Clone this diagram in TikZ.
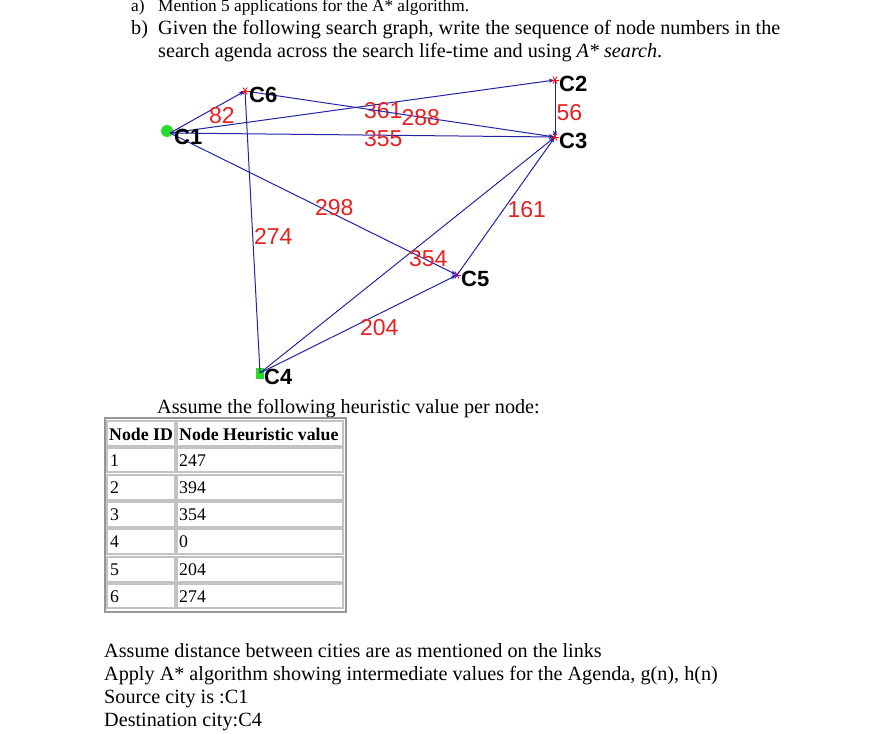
\documentclass[tikz,border=0pt]{standalone}
\usepackage{fontspec}
\setmainfont{Liberation Serif}
\setsansfont{Liberation Sans}
\usetikzlibrary{arrows.meta,calc}

\definecolor{linkblue}{RGB}{35,35,165}
\definecolor{distred}{RGB}{232,32,32}
\definecolor{cellgray}{RGB}{195,195,195}
\definecolor{framegray}{RGB}{150,150,150}
\definecolor{markgreen}{RGB}{40,220,40}

\tikzset{
  city/.style={inner sep=0pt, minimum size=0pt},
  cityname/.style={
    font=\sffamily\bfseries\fontsize{22}{22}\selectfont,
    anchor=west,
    inner sep=0pt,
    xshift=4pt,
    yshift=-4pt
  },
  link/.style={draw=linkblue, line width=1pt},
  arrowlink/.style={link, -{Stealth[length=6pt,width=4pt]}},
  dist/.style={
    text=distred,
    font=\sffamily\fontsize{23}{23}\selectfont,
    anchor=west,
    inner sep=0pt,
    xshift=1pt,
    yshift=-4pt
  },
  body/.style={font=\fontsize{20.2}{23}\selectfont, anchor=base west, inner sep=0pt},
  cell/.style={draw=cellgray, line width=1.2pt},
  celltext/.style={font=\fontsize{17.8}{20}\selectfont, anchor=base west, inner sep=0pt}
}

\begin{document}
\begin{tikzpicture}[x=1pt, y=-1pt]
  \useasboundingbox[fill=white] (0,0) rectangle (890,733);

  % question text
  \node[body, font=\fontsize{17.3}{20}\selectfont] (la) at (131,12) {a)};
  \node[body, font=\fontsize{17.3}{20}\selectfont] (qa) at (158,12) {Mention 5 applications for the A* algorithm.};
  \node[body] (lb) at (131,35) {b)};
  \node[body] (qb) at (158,35) {Given the following search graph, write the sequence of node numbers in the};
  \node[body] (qb2) at (158,58) {search agenda across the search life-time and using \textit{A* search}.};

  % cities
  \node[city] (c1) at (170,133) {};
  \node[city] (c6) at (245,91) {};
  \node[city] (c2) at (555,80) {};
  \node[city] (c3) at (555,137) {};
  \node[city] (c5) at (457,275) {};
  \node[city] (c4) at (260,373) {};

  % source and destination marks
  \fill[markgreen] ($(c1)+(-3,-2)$) circle (6);
  \fill[markgreen] ($(c4)+(-4,-5)$) rectangle ($(c4)+(4,6)$);

  % links
  \draw[arrowlink] (c1) -- node[dist] {82} (c6);
  \draw[arrowlink] (c1) -- node[dist] {361} (c2);
  \draw[arrowlink] (c6) -- node[dist] {288} (c3);
  \draw[arrowlink] (c1) -- node[dist] {355} (c3);
  \draw[arrowlink] (c2) -- node[dist] {56} (c3);
  \draw[link] (c6) -- node[dist] {274} (c4);
  \draw[arrowlink] (c1) -- node[dist] {298} (c5);
  \draw[arrowlink] (c4) -- node[dist] {354} (c3);
  \draw[arrowlink] (c5) -- node[dist] {161} (c3);
  \draw[arrowlink] (c4) -- node[dist] {204} (c5);

  % star marks
  \foreach \c/\col in {c6/red, c2/red, c3/red, c5/violet}
    \foreach \a in {0,60,120}
      \draw[\col, line width=0.8pt] ($(\c)+(\a:4)$) -- ($(\c)+(\a+180:4)$);

  \node[cityname] (n1) at (c1) {C1};
  \node[cityname] (n6) at (c6) {C6};
  \node[cityname] (n2) at (c2) {C2};
  \node[cityname] (n3) at (c3) {C3};
  \node[cityname] (n5) at (c5) {C5};
  \node[cityname] (n4) at (c4) {C4};

  \node[body] (qh) at (157,413) {Assume the following heuristic value per node:};

  % heuristic table
  \draw[draw=framegray, line width=1.2pt] (105,418) rectangle (346,612);
  \foreach \t/\b in {421/446, 448/472, 475/500, 502/527, 529/554, 557/582, 584/608} {
    \draw[cell] (107,\t) rectangle (175,\b);
    \draw[cell] (177,\t) rectangle (343,\b);
  }
  \node[celltext, font=\bfseries\fontsize{17.8}{20}\selectfont] (h1) at (109,440) {Node ID};
  \node[celltext, font=\bfseries\fontsize{17.8}{20}\selectfont] (h2) at (179,440) {Node Heuristic value};
  \foreach \i/\h/\y in {1/247/466, 2/394/493, 3/354/520, 4/0/547, 5/204/575, 6/274/602} {
    \node[celltext] (id\i) at (110,\y) {\i};
    \node[celltext] (hv\i) at (179,\y) {\h};
  }

  \node[body] (s1) at (104,657) {Assume distance between cities are as mentioned on the links};
  \node[body] (s2) at (104,680) {Apply A* algorithm showing intermediate values for the Agenda, g(n), h(n)};
  \node[body] (s3) at (104,703) {Source city is :C1};
  \node[body] (s4) at (104,726) {Destination city:C4};
\end{tikzpicture}
\end{document}
